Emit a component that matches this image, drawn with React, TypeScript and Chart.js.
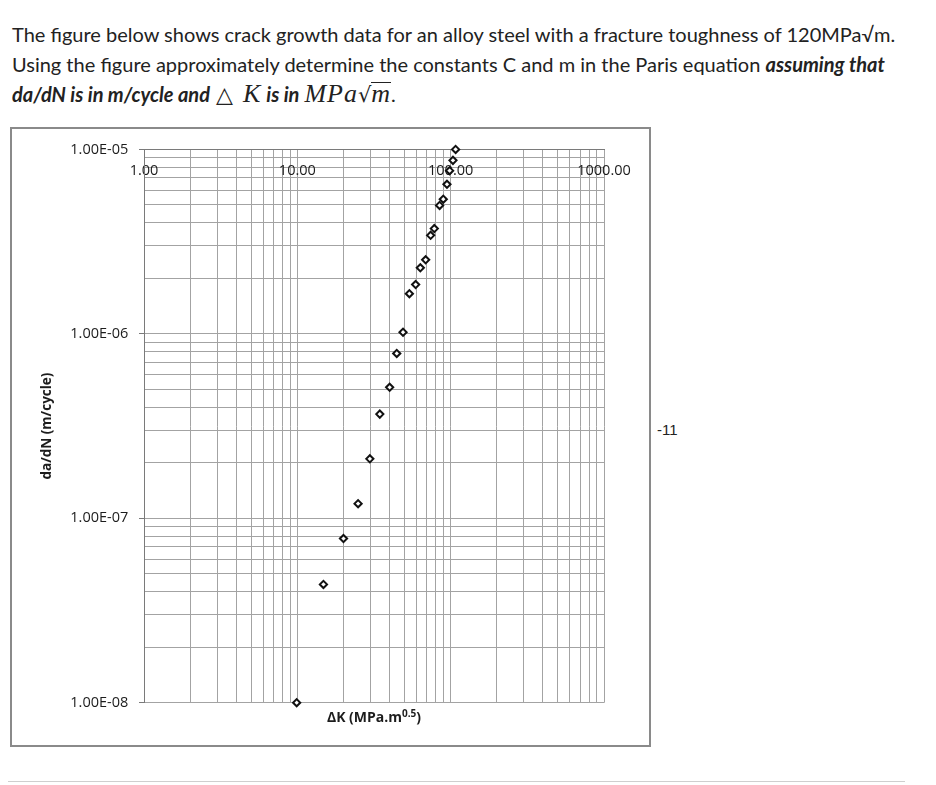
import React, { useEffect, useRef } from 'react';
import { Chart, registerables } from 'chart.js';

Chart.register(...registerables);

// Crack growth data: ΔK (MPa·m^0.5) vs da/dN (m/cycle)
const deltaK = [9.9, 14.8, 20.0, 24.9, 29.7, 34.5, 40.0, 44.5, 48.9, 53.8, 59.1, 63.4, 68.7, 74.0, 78.2, 84.7, 89.5, 94.6, 98.4, 103.5, 107.7];
const dadN = [1.0e-8, 4.38e-8, 7.76e-8, 1.2e-7, 2.1e-7, 3.67e-7, 5.13e-7, 7.83e-7, 1.02e-6, 1.65e-6, 1.85e-6, 2.28e-6, 2.52e-6, 3.42e-6, 3.72e-6, 4.97e-6, 5.37e-6, 6.47e-6, 7.67e-6, 8.72e-6, 1.0e-5];

const xMajorTicks = [1, 10, 100, 1000];
const xTickLabels = ['1.00', '10.00', '100.00', '1000.00'];
const yMajorTicks = [1e-8, 1e-7, 1e-6, 1e-5];
const yTickLabels = ['1.00E-08', '1.00E-07', '1.00E-06', '1.00E-05'];
const minorSteps = [1, 2, 3, 4, 5, 6, 7, 8, 9];

const GRID = '#a3a3a3';
const AXIS = '#7a7a7a';
const TEXT = '#1c1c1c';

function gridValues(majors: number[]): number[] {
  const out: number[] = [];
  for (let i = 0; i < majors.length; i++) {
    const exp = Math.round(Math.log10(majors[i]));
    if (i === majors.length - 1) {
      out.push(majors[i]);
      break;
    }
    for (const s of minorSteps) out.push(parseFloat(`${s}e${exp}`));
  }
  return out;
}

function majorIndex(v: number, majors: number[]): number {
  for (let i = 0; i < majors.length; i++) {
    if (Math.abs(Math.log10(v) - Math.log10(majors[i])) < 1e-6) return i;
  }
  return -1;
}

const xGrid = gridValues(xMajorTicks);
const yGrid = gridValues(yMajorTicks);

function CrackChart() {
  const ref = useRef<HTMLCanvasElement | null>(null);
  useEffect(() => {
    if (!ref.current) return;
    const chart = new Chart(ref.current, {
      type: 'scatter',
      data: {
        datasets: [
          {
            data: deltaK.map((x, i) => ({ x, y: dadN[i] })),
            pointStyle: 'rectRot',
            pointRadius: 3.6,
            pointHoverRadius: 3.6,
            pointBorderWidth: 2,
            pointBorderColor: '#111111',
            pointBackgroundColor: '#ffffff',
            showLine: false,
            clip: false,
          } as any,
        ],
      },
      options: {
        animation: false,
        responsive: false,
        layout: { padding: { top: 16.7, right: 45, bottom: 41.3, left: 0 } },
        plugins: { legend: { display: false }, tooltip: { enabled: false } },
        scales: {
          x: {
            type: 'logarithmic',
            position: 'top',
            min: 1,
            max: 1000,
            afterBuildTicks: (axis: any) => {
              axis.ticks = xGrid.map((v) => ({ value: v }));
            },
            afterFit: (axis: any) => {
              axis.height = 0;
            },
            ticks: {
              autoSkip: false,
              mirror: true,
              padding: 13,
              maxRotation: 0,
              minRotation: 0,
              color: TEXT,
              font: { family: 'Open Sans', size: 14.5 },
              callback: (value: any) => {
                const i = majorIndex(Number(value), xMajorTicks);
                return i >= 0 ? xTickLabels[i] : '';
              },
            },
            grid: { color: GRID, lineWidth: 1, drawTicks: false },
            border: { display: true, color: AXIS, width: 1 },
          } as any,
          y: {
            type: 'logarithmic',
            position: 'left',
            min: 1e-8,
            max: 1e-5,
            afterBuildTicks: (axis: any) => {
              axis.ticks = yGrid.map((v) => ({ value: v }));
            },
            afterFit: (axis: any) => {
              axis.width = 132;
            },
            ticks: {
              autoSkip: false,
              padding: 10.7,
              color: TEXT,
              font: { family: 'Open Sans', size: 14.5 },
              callback: (value: any) => {
                const i = majorIndex(Number(value), yMajorTicks);
                return i >= 0 ? yTickLabels[i] : '';
              },
            },
            grid: {
              color: GRID,
              lineWidth: 1,
              drawTicks: true,
              tickLength: 5,
              tickColor: (ctx: any) =>
                ctx.tick && majorIndex(ctx.tick.value, yMajorTicks) >= 0 ? AXIS : 'rgba(0,0,0,0)',
            },
            border: { display: true, color: AXIS, width: 1 },
            title: {
              display: true,
              text: 'da/dN (m/cycle)',
              color: TEXT,
              font: { family: 'Open Sans', size: 13.5, weight: 'bold' },
              padding: { top: 26.6, bottom: 0 },
            },
          } as any,
        },
      },
    });
    return () => chart.destroy();
  }, []);
  return (
    <canvas
      ref={ref}
      width={637}
      height={614}
      style={{ position: 'absolute', left: 12, top: 130, width: 637, height: 614 }}
    />
  );
}

export default function App() {
  const mathItalic: React.CSSProperties = {
    display: 'inline-block',
    fontFamily: "'Liberation Serif', 'DejaVu Serif', serif",
    fontStyle: 'italic',
    fontWeight: 'normal',
    fontSize: 26,
    lineHeight: '20px',
  };
  return (
    <div style={{ position: 'absolute', left: 0, top: 0, width: 936, height: 785, background: '#ffffff', overflow: 'hidden' }}>
      <div
        style={{
          position: 'absolute',
          left: 12,
          top: 19,
          fontFamily: 'Lato, sans-serif',
          fontSize: 20,
          lineHeight: '30px',
          color: '#222222',
          whiteSpace: 'nowrap',
        }}
      >
        <div>The figure below shows crack growth data for an alloy steel with a fracture toughness of 120MPa√m.</div>
        <div>
          Using the figure approximately determine the constants C and m in the Paris equation{' '}
          <b><i>assuming that</i></b>
        </div>
        <div>
          <b><i>da/dN is in m/cycle and</i></b>
          <span style={{ display: 'inline-block', marginLeft: 6, fontFamily: "'DejaVu Serif', serif", fontSize: 22, lineHeight: '20px' }}>△</span>
          <span style={{ ...mathItalic, marginLeft: 10 }}>K</span>
          <b><i style={{ marginLeft: 6 }}>is in</i></b>
          <span style={{ ...mathItalic, marginLeft: 5, letterSpacing: 1 }}>MPa</span>
          <span style={{ display: 'inline-block', fontFamily: "'DejaVu Serif', serif", fontSize: 21, lineHeight: '20px' }}>√</span>
          <span style={{ ...mathItalic, borderTop: '1.5px solid #222', lineHeight: '22px', paddingRight: 1 }}>m</span>.
        </div>
      </div>

      <div
        style={{
          position: 'absolute',
          left: 10,
          top: 127,
          width: 641,
          height: 620,
          boxSizing: 'border-box',
          border: '2px solid #8a8a8a',
        }}
      />
      <CrackChart />
      <div
        style={{
          position: 'absolute',
          left: 274,
          top: 708,
          width: 200,
          textAlign: 'center',
          fontFamily: 'Open Sans, sans-serif',
          fontWeight: 'bold',
          fontSize: 14,
          lineHeight: '17px',
          color: TEXT,
          whiteSpace: 'nowrap',
        }}
      >
        ΔK (MPa.m<sup style={{ fontSize: 10, lineHeight: 0, verticalAlign: '5px' }}>0.5</sup>)
      </div>
      <div
        style={{
          position: 'absolute',
          left: 657,
          top: 421,
          fontFamily: "'Liberation Sans', Arial, sans-serif",
          fontSize: 15,
          lineHeight: '18px',
          color: '#222222',
        }}
      >
        -11
      </div>
      <div style={{ position: 'absolute', left: 8, top: 781, width: 897, height: 1, background: '#cfcfcf' }} />
    </div>
  );
}
